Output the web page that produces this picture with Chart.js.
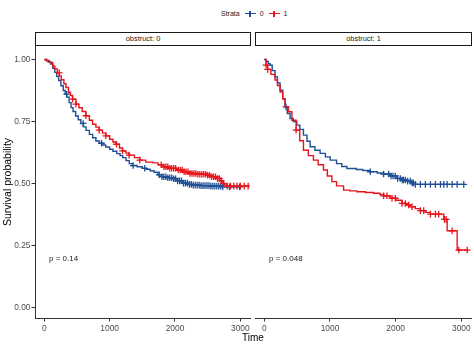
<!DOCTYPE html>
<html>
<head>
<meta charset="UTF-8">
<title>Survival by obstruct</title>
<script src="https://cdn.jsdelivr.net/npm/chart.js@4.4.1/dist/chart.umd.min.js"></script>
<style>
  body { margin: 0; background: #fff; font-family: "Liberation Sans", Arial, sans-serif; }
  #page { position: relative; width: 474px; height: 347px; overflow: hidden; }
  .panel { position: absolute; top: 46px; height: 290px; }
  .strip { position: absolute; top: 32px; height: 14px; box-sizing: border-box; border: 1px solid #1a1a1a;
           font-size: 7.4px; color: #1a1a1a; text-align: center; line-height: 12px; background: #fff; }
  .ptext { position: absolute; top: 254px; font-size: 8px; color: #1a1a1a; }
  #xtitle { position: absolute; left: 203px; width: 100px; top: 332px; text-align: center; font-size: 10px; color: #000; }
  #legend { position: absolute; left: 221px; top: 8px; height: 11px; display: flex; align-items: center; font-size: 7px; color: #1a1a1a; }
  .key { position: relative; width: 11px; height: 11px; margin: 0 4px 0 5px; }
  .key .h { position: absolute; left: 0; top: 5px; width: 11px; height: 1.4px; }
  .key .v { position: absolute; left: 4.8px; top: 2.5px; width: 1.4px; height: 6px; }
</style>
</head>
<body>
<div id="page">
  <div id="legend">
    <span>Strata</span>
    <span class="key"><span class="h" style="background:#1f4f96"></span><span class="v" style="background:#1f4f96"></span></span>
    <span>0</span>
    <span class="key"><span class="h" style="background:#e8141c"></span><span class="v" style="background:#e8141c"></span></span>
    <span>1</span>
  </div>

  <div class="strip" id="strip0" style="left:35px;width:216px;"></div>
  <div class="strip" id="strip1" style="left:255px;width:217px;"></div>

  <div class="panel" style="left:0;width:252px;"><canvas id="left"></canvas></div>
  <div class="panel" style="left:253px;width:221px;"><canvas id="right"></canvas></div>

  <div class="ptext" id="p0" style="left:49px;"></div>
  <div class="ptext" id="p1" style="left:269px;"></div>
  <div id="xtitle">Time</div>
</div>

<script>
// facets, strata and labels
var panels = ['obstruct: 0', 'obstruct: 1'];
var strata = ['0', '1'];
var pValues = ['p = 0.14', 'p = 0.048'];
var xTicks = [0, 1000, 2000, 3000];
var yTicks = [0, 0.25, 0.5, 0.75, 1];

// obstruct 0, strata 0
var o0s0Time = [0,30,60,100,130,160,190,220,255,290,320,345,380,410,440,480,520,560,600,640,690,740,790,840,890,940,1000,1050,1110,1160,1200,1250,1300,1350,1420,1500,1560,1620,1680,1740,1800,1880,1970,2040,2120,2200,2280,2400,2530,2730,3000];
var o0s0Surv = [1,0.996,0.99,0.982,0.965,0.948,0.932,0.915,0.894,0.875,0.86,0.848,0.826,0.806,0.79,0.772,0.757,0.742,0.728,0.714,0.698,0.684,0.671,0.662,0.655,0.647,0.638,0.63,0.62,0.612,0.604,0.592,0.58,0.572,0.567,0.561,0.557,0.551,0.545,0.535,0.527,0.523,0.519,0.51,0.501,0.496,0.493,0.491,0.489,0.486,0.486];
var o0s0Cens = [342,595,876,1359,1537,1760,1800,1830,1860,1890,1920,1950,1980,2010,2040,2070,2100,2130,2160,2190,2220,2250,2280,2310,2340,2370,2400,2430,2460,2490,2520,2550,2580,2610,2640,2670,2700,2730,2835,2990];

// obstruct 0, strata 1
var o0s1Time = [0,40,80,128,160,200,230,260,300,331,370,400,433,484,530,580,637,690,739,790,840,890,942,1000,1050,1095,1150,1197,1250,1298,1380,1461,1553,1664,1740,1817,1900,2021,2120,2224,2350,2479,2560,2632,2690,2733,2760,2785,3125];
var o0s1Surv = [1,0.995,0.988,0.974,0.962,0.946,0.934,0.918,0.902,0.887,0.868,0.855,0.84,0.82,0.805,0.79,0.773,0.755,0.739,0.727,0.715,0.703,0.692,0.678,0.667,0.658,0.643,0.631,0.622,0.614,0.604,0.594,0.586,0.583,0.575,0.567,0.561,0.554,0.547,0.54,0.537,0.533,0.527,0.52,0.51,0.5,0.494,0.489,0.489];
var o0s1Cens = [229,433,484,637,840,942,1105,1197,1298,1461,1790,1830,1860,1890,1920,1950,1980,2010,2050,2080,2110,2140,2170,2200,2230,2260,2290,2320,2350,2380,2410,2440,2470,2500,2530,2560,2590,2620,2650,2680,2710,2740,2800,2850,2900,2950,3000,3060,3120];

// obstruct 1, strata 0
var o1s0Time = [0,30,60,87,120,163,200,240,280,316,350,392,440,494,540,596,650,698,770,850,930,1003,1100,1180,1258,1400,1500,1614,1720,1817,1920,2021,2100,2174,2230,2275,3038];
var o1s0Surv = [1,0.992,0.983,0.977,0.955,0.93,0.905,0.876,0.842,0.809,0.782,0.762,0.75,0.735,0.718,0.695,0.67,0.648,0.634,0.621,0.607,0.594,0.58,0.568,0.56,0.556,0.552,0.547,0.542,0.538,0.53,0.52,0.514,0.509,0.502,0.496,0.496];
var o1s0Cens = [330,1614,1817,1894,1930,1960,1995,2030,2071,2100,2120,2148,2183,2224,2250,2270,2300,2377,2453,2530,2606,2683,2733,2785,2861,2937,3038];

// obstruct 1, strata 1
var o1s1Time = [0,26,50,100,163,200,240,280,316,367,420,484,540,596,670,748,820,901,960,1029,1100,1207,1300,1411,1540,1664,1760,1817,1919,2000,2098,2160,2224,2300,2377,2450,2530,2733,2785,2937,3090];
var o1s1Surv = [1,0.977,0.96,0.94,0.917,0.895,0.869,0.84,0.809,0.789,0.755,0.715,0.672,0.634,0.612,0.594,0.575,0.554,0.53,0.507,0.49,0.473,0.47,0.466,0.463,0.46,0.455,0.45,0.44,0.432,0.419,0.413,0.406,0.398,0.39,0.383,0.376,0.355,0.309,0.231,0.231];
var o1s1Cens = [26,50,484,1817,1868,1945,1995,2098,2148,2199,2250,2377,2428,2530,2606,2657,2743,2770,2861,2962,3090];

var colors = ['#1f4f96', '#e8141c'];

document.getElementById('strip0').textContent = panels[0];
document.getElementById('strip1').textContent = panels[1];
document.getElementById('p0').textContent = pValues[0];
document.getElementById('p1').textContent = pValues[1];

function survAt(time, surv, t) {
  var s = surv[0];
  for (var i = 0; i < time.length; i++) {
    if (time[i] <= t) s = surv[i];
  }
  return s;
}

function buildDatasets(series) {
  var ds = [];
  series.forEach(function (s, k) {
    ds.push({
      type: 'line',
      label: strata[k],
      data: s.time.map(function (t, i) { return { x: t, y: s.surv[i] }; }),
      borderColor: colors[k],
      borderWidth: 1.4,
      pointRadius: 0,
      stepped: true,
      fill: false,
      order: 1 - k
    });
    ds.push({
      type: 'scatter',
      label: strata[k] + ' censored',
      data: s.cens.map(function (t) { return { x: t, y: survAt(s.time, s.surv, t) }; }),
      pointStyle: 'cross',
      pointRadius: 3.3,
      borderColor: colors[k],
      backgroundColor: colors[k],
      borderWidth: 1.3,
      order: 1 - k
    });
  });
  return ds;
}

var tickFont = { family: '"Liberation Sans", Arial, sans-serif', size: 8.4 };

function makeChart(id, series, showY, padLeft, padRight) {
  return new Chart(document.getElementById(id), {
    type: 'scatter',
    data: { datasets: buildDatasets(series) },
    options: {
      responsive: true,
      maintainAspectRatio: false,
      animation: false,
      layout: { autoPadding: false, padding: { left: padLeft, right: padRight, top: 0, bottom: 0 } },
      plugins: { legend: { display: false }, tooltip: { enabled: false } },
      scales: {
        x: {
          type: 'linear',
          min: -142,
          max: 3148,
          afterBuildTicks: function (s) { s.ticks = xTicks.map(function (v) { return { value: v }; }); },
          afterFit: function (s) { s.height = 18; s.paddingLeft = 0; s.paddingRight = 0; },
          ticks: { font: tickFont, color: '#4d4d4d', padding: 2, maxRotation: 0, autoSkip: false,
                   callback: function (v) { return String(v); } },
          grid: { drawOnChartArea: false, drawTicks: true, tickLength: 3.5, color: '#333', lineWidth: 1 },
          border: { display: true, color: '#333', width: 1 }
        },
        y: {
          display: showY,
          min: -0.0432,
          max: 1.0545,
          afterBuildTicks: function (s) { s.ticks = yTicks.map(function (v) { return { value: v }; }); },
          afterFit: function (s) { s.width = showY ? 35 : 0; s.paddingTop = 0; s.paddingBottom = 0; },
          ticks: { font: tickFont, color: '#4d4d4d', padding: 1, autoSkip: false,
                   callback: function (v) { return v.toFixed(2); } },
          grid: { drawOnChartArea: false, drawTicks: true, tickLength: 3.5, color: '#333', lineWidth: 1 },
          border: { display: true, color: '#333', width: 1 },
          title: { display: true, text: 'Survival probability', color: '#000',
                   font: { family: '"Liberation Sans", Arial, sans-serif', size: 10.5 }, padding: 2 }
        }
      }
    }
  });
}

makeChart('left', [
  { time: o0s0Time, surv: o0s0Surv, cens: o0s0Cens },
  { time: o0s1Time, surv: o0s1Surv, cens: o0s1Cens }
], true, 0, 2);

makeChart('right', [
  { time: o1s0Time, surv: o1s0Surv, cens: o1s0Cens },
  { time: o1s1Time, surv: o1s1Surv, cens: o1s1Cens }
], false, 2, 3);
</script>
</body>
</html>
